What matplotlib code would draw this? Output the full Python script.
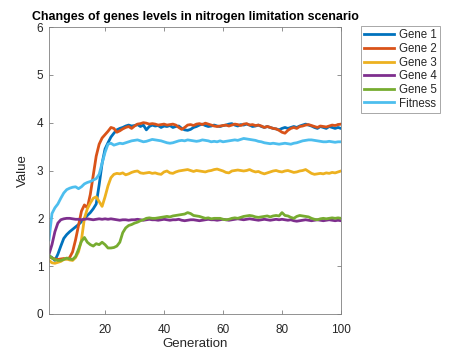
import matplotlib.pyplot as plt
import numpy as np

plt.rcParams['font.family'] = ['Liberation Sans', 'DejaVu Sans']

generation = np.arange(1, 101)

gene1 = [1.22, 1.18, 1.12, 1.25, 1.42, 1.58, 1.66, 1.72, 1.77, 1.82,
         1.87, 1.93, 2.00, 2.06, 2.12, 2.20, 2.30, 2.70, 3.15, 3.45,
         3.58, 3.70, 3.78, 3.85, 3.88, 3.90, 3.93, 3.95, 3.93, 3.94,
         3.96, 3.92, 3.95, 3.85, 3.92, 3.95, 3.93, 3.94, 3.90, 3.93,
         3.92, 3.94, 3.90, 3.92, 3.93, 3.88, 3.85, 3.84, 3.86, 3.90,
         3.92, 3.95, 3.97, 3.94, 3.92, 3.93, 3.95, 3.93, 3.92, 3.94,
         3.95, 3.97, 3.98, 3.95, 3.93, 3.96, 3.95, 3.97, 3.95, 3.92,
         3.93, 3.95, 3.92, 3.90, 3.92, 3.90, 3.88, 3.87, 3.85, 3.88,
         3.90, 3.88, 3.90, 3.92, 3.90, 3.93, 3.95, 3.97, 3.95, 3.93,
         3.90, 3.88, 3.92, 3.90, 3.88, 3.92, 3.90, 3.88, 3.90, 3.88]

gene2 = [1.20, 1.17, 1.15, 1.14, 1.15, 1.16, 1.15, 1.18, 1.30, 1.55,
         1.85, 2.15, 2.28, 2.22, 2.50, 2.90, 3.30, 3.55, 3.68, 3.75,
         3.82, 3.90, 3.88, 3.80, 3.83, 3.87, 3.90, 3.92, 3.88, 3.93,
         3.97, 3.98, 4.00, 3.99, 3.97, 3.98, 3.97, 3.95, 3.96, 3.97,
         3.95, 3.96, 3.97, 3.95, 3.90, 3.86, 3.90, 3.95, 3.96, 3.94,
         3.97, 3.98, 3.96, 3.99, 3.97, 3.95, 3.93, 3.92, 3.93, 3.94,
         3.95, 3.93, 3.95, 3.97, 3.96, 3.94, 3.97, 3.98, 3.95, 3.96,
         3.94, 3.95, 3.93, 3.90, 3.92, 3.90, 3.88, 3.87, 3.84, 3.80,
         3.78, 3.84, 3.88, 3.90, 3.88, 3.92, 3.93, 3.95, 3.96, 3.94,
         3.92, 3.90, 3.93, 3.92, 3.91, 3.93, 3.95, 3.94, 3.96, 3.97]

gene3 = [1.12, 1.07, 1.06, 1.08, 1.10, 1.14, 1.15, 1.13, 1.12, 1.18,
         1.30, 1.55, 2.00, 2.20, 2.32, 2.42, 2.45, 2.35, 2.25, 2.45,
         2.68, 2.85, 2.92, 2.94, 2.93, 2.95, 2.91, 2.93, 2.96, 2.98,
         2.99, 2.95, 2.94, 2.95, 2.96, 2.94, 2.95, 2.93, 2.92, 2.97,
         2.99, 2.95, 2.94, 2.97, 2.99, 3.00, 3.01, 3.02, 3.00, 2.98,
         3.00, 2.99, 2.98, 2.97, 2.99, 3.00, 3.02, 3.03, 3.01, 2.99,
         2.96, 2.95, 2.99, 3.00, 3.01, 3.00, 2.99, 3.00, 3.02, 2.99,
         2.97, 2.98, 2.95, 2.93, 2.95, 2.97, 2.99, 3.00, 2.98, 2.97,
         2.99, 3.00, 2.98, 2.96, 2.97, 2.99, 3.00, 3.02, 2.98, 2.94,
         2.92, 2.93, 2.94, 2.93, 2.95, 2.94, 2.96, 2.95, 2.97, 2.99]

gene4 = [1.25, 1.45, 1.72, 1.90, 1.97, 1.99, 2.00, 2.00, 1.99, 1.98,
         1.98, 1.97, 1.98, 1.99, 1.98, 1.97, 1.98, 1.99, 1.98, 1.99,
         1.98, 1.99, 1.98, 1.97, 1.96, 1.97, 1.97, 1.96, 1.97, 1.97,
         1.98, 1.97, 1.96, 1.97, 1.98, 1.97, 1.97, 1.96, 1.97, 1.98,
         1.97, 1.96, 1.97, 1.97, 1.98, 1.96, 1.95, 1.96, 1.97, 1.97,
         1.96, 1.95, 1.96, 1.97, 1.98, 1.97, 1.97, 1.96, 1.97, 1.98,
         1.97, 1.96, 1.97, 1.98, 1.99, 1.98, 1.97, 1.98, 1.99, 1.98,
         1.97, 1.96, 1.97, 1.98, 1.97, 1.96, 1.97, 1.98, 1.97, 1.98,
         1.97, 1.96, 1.97, 1.95, 1.94, 1.95, 1.96, 1.97, 1.96, 1.95,
         1.96, 1.97, 1.96, 1.95, 1.96, 1.97, 1.96, 1.95, 1.96, 1.95]

gene5 = [1.22, 1.17, 1.14, 1.12, 1.12, 1.14, 1.17, 1.15, 1.14, 1.20,
         1.35, 1.52, 1.60, 1.50, 1.45, 1.42, 1.47, 1.45, 1.50, 1.45,
         1.38, 1.38, 1.39, 1.42, 1.50, 1.70, 1.80, 1.85, 1.87, 1.90,
         1.92, 1.95, 1.97, 2.00, 2.01, 2.00, 2.00, 2.01, 2.02, 2.03,
         2.04, 2.03, 2.05, 2.06, 2.07, 2.08, 2.09, 2.12, 2.10, 2.06,
         2.05, 2.04, 2.02, 2.00, 2.01, 1.99, 2.00, 2.00, 2.00, 1.98,
         1.97, 1.98, 2.00, 2.01, 2.00, 2.02, 2.04, 2.05, 2.06, 2.05,
         2.03, 2.02, 2.03, 2.04, 2.05, 2.03, 2.05, 2.06, 2.05, 2.12,
         2.06, 2.05, 2.02, 2.00, 2.04, 2.06, 2.05, 2.04, 2.03, 2.00,
         1.98, 1.97, 1.99, 2.00, 1.99, 2.00, 2.01, 2.00, 2.01, 2.00]

fitness = [1.55, 2.10, 2.22, 2.30, 2.42, 2.53, 2.60, 2.63, 2.65, 2.66,
           2.62, 2.66, 2.72, 2.75, 2.77, 2.80, 2.83, 2.92, 3.15, 3.38,
           3.55, 3.57, 3.53, 3.55, 3.57, 3.56, 3.58, 3.60, 3.62, 3.63,
           3.64, 3.62, 3.60, 3.61, 3.63, 3.65, 3.64, 3.63, 3.62, 3.60,
           3.58, 3.57, 3.58, 3.60, 3.62, 3.63, 3.62, 3.64, 3.63, 3.62,
           3.61, 3.62, 3.64, 3.63, 3.62, 3.60, 3.61, 3.60, 3.62, 3.60,
           3.61, 3.62, 3.63, 3.64, 3.63, 3.65, 3.67, 3.66, 3.65, 3.64,
           3.63, 3.61, 3.60, 3.58, 3.57, 3.56, 3.57, 3.56, 3.55, 3.56,
           3.57, 3.56, 3.55, 3.57, 3.58, 3.60, 3.62, 3.63, 3.64, 3.64,
           3.63, 3.62, 3.61, 3.60, 3.60, 3.61, 3.60, 3.59, 3.60, 3.60]

labels = ['Gene 1', 'Gene 2', 'Gene 3', 'Gene 4', 'Gene 5', 'Fitness']
series = [gene1, gene2, gene3, gene4, gene5, fitness]
# MATLAB default colour order
colors = ['#0072BD', '#D95319', '#EDB120', '#7E2F8E', '#77AC30', '#4DBEEE']

fig = plt.figure(figsize=(4.74, 3.55), dpi=100)
ax = fig.add_axes([0.1034, 0.1155, 0.616, 0.8084])

for y, lab, c in zip(series, labels, colors):
    ax.plot(generation, y, color=c, linewidth=2.0, label=lab)

ax.set_xlim(1, 100)
ax.set_ylim(0, 6)
ax.set_xticks([20, 40, 60, 80, 100])
ax.set_yticks(range(0, 7))

gray = '#262626'
for s in ax.spines.values():
    s.set_color('#808080')
    s.set_linewidth(0.6)
ax.tick_params(direction='in', length=3, width=0.6, colors='#808080',
               labelcolor=gray, labelsize=8.5, top=True, right=True,
               labeltop=False, labelright=False)
ax.tick_params(axis='x', pad=7)
ax.tick_params(axis='y', pad=4)

ax.set_xlabel('Generation', fontsize=9.5, color=gray, labelpad=2)
ax.set_ylabel('Value', fontsize=9.5, color=gray, labelpad=6)
ax.set_title('Changes of genes levels in nitrogen limitation scenario',
             fontsize=8.9, fontweight='bold', color='black', pad=5)

leg = fig.legend(loc='upper left', bbox_to_anchor=(361 / 474, 1 - 26 / 355),
                 fontsize=8.3, frameon=True, fancybox=False, handlelength=2.6,
                 handletextpad=0.4, borderpad=0.3, labelspacing=0.14,
                 borderaxespad=0)
leg.get_frame().set_edgecolor('#808080')
leg.get_frame().set_linewidth(0.6)
for t in leg.get_texts():
    t.set_color(gray)

fig.savefig('out.png', dpi=100)
